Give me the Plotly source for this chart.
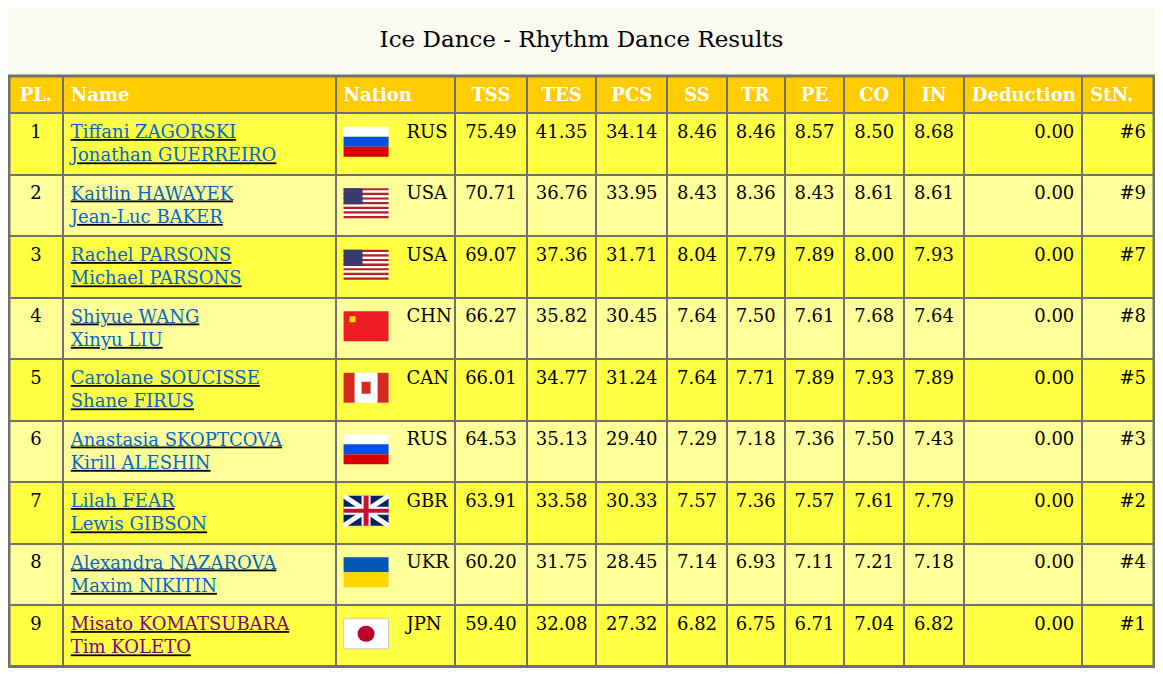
import plotly.graph_objects as go

W, H = 1147, 660
ML, MR, MT, MB = 1, 1, 68, 0

places = [1, 2, 3, 4, 5, 6, 7, 8, 9]
skaters = [
    ("Tiffani ZAGORSKI", "Jonathan GUERREIRO"),
    ("Kaitlin HAWAYEK", "Jean-Luc BAKER"),
    ("Rachel PARSONS", "Michael PARSONS"),
    ("Shiyue WANG", "Xinyu LIU"),
    ("Carolane SOUCISSE", "Shane FIRUS"),
    ("Anastasia SKOPTCOVA", "Kirill ALESHIN"),
    ("Lilah FEAR", "Lewis GIBSON"),
    ("Alexandra NAZAROVA", "Maxim NIKITIN"),
    ("Misato KOMATSUBARA", "Tim KOLETO"),
]
nations = ["RUS", "USA", "USA", "CHN", "CAN", "RUS", "GBR", "UKR", "JPN"]
tss = [75.49, 70.71, 69.07, 66.27, 66.01, 64.53, 63.91, 60.20, 59.40]
tes = [41.35, 36.76, 37.36, 35.82, 34.77, 35.13, 33.58, 31.75, 32.08]
pcs = [34.14, 33.95, 31.71, 30.45, 31.24, 29.40, 30.33, 28.45, 27.32]
ss = [8.46, 8.43, 8.04, 7.64, 7.64, 7.29, 7.57, 7.14, 6.82]
tr = [8.46, 8.36, 7.79, 7.50, 7.71, 7.18, 7.36, 6.93, 6.75]
pe = [8.57, 8.43, 7.89, 7.61, 7.89, 7.36, 7.57, 7.11, 6.71]
co = [8.50, 8.61, 8.00, 7.68, 7.93, 7.50, 7.61, 7.21, 7.04]
inn = [8.68, 8.61, 7.93, 7.64, 7.89, 7.43, 7.79, 7.18, 6.82]
deduction = [0.00] * 9
start_no = ["#6", "#9", "#7", "#8", "#5", "#3", "#2", "#4", "#1"]

headers = ["PL.", "Name", "Nation", "TSS", "TES", "PCS", "SS", "TR", "PE",
           "CO", "IN", "Deduction", "StN."]
col_px = [54, 274, 120, 72, 70, 71, 60, 58, 60, 60, 60, 119, 72]

HEAD_H, ROW_H = 37, 61.5

def link(text, color):
    return (f"<span style='text-decoration:underline'>"
            f"<span style='fill:{color}'>{text}</span></span>")

name_cells = []
for i, (a, b) in enumerate(skaters):
    c = "#800080" if i == len(skaters) - 1 else "#0066cc"
    name_cells.append(link(a, c) + "<br>" + link(b, c))

nbsp = "\u00a0"
# single-line cells get a leading break so they sit mid-row like the names
down = lambda seq: ["<br>" + str(s) for s in seq]
nation_cells = down([nbsp * 11 + n for n in nations])
fmt = lambda v: down([f"{x:.2f}" for x in v])

values = [down(places), name_cells, nation_cells, fmt(tss), fmt(tes), fmt(pcs),
          fmt(ss), fmt(tr), fmt(pe), fmt(co), fmt(inn), fmt(deduction),
          down(start_no)]

row_fill = ["#ffff44" if i % 2 == 0 else "#ffff99" for i in range(9)]
aligns = ["center", "left", "left"] + ["center"] * 8 + ["right", "right"]
halign = ["center", "left", "left"] + ["center"] * 8 + ["left", "left"]

fig = go.Figure(go.Table(
    columnwidth=col_px,
    header=dict(values=[f"<b>{h}</b>" for h in headers],
                fill_color="#ffcc00", line=dict(color="#707070", width=2),
                font=dict(family="DejaVu Serif", size=18, color="white"),
                align=halign, height=HEAD_H),
    cells=dict(values=values, fill_color=[row_fill] * len(headers),
               line=dict(color="#707070", width=2),
               font=dict(family="DejaVu Serif", size=18, color="black"),
               align=aligns, height=ROW_H),
))

# flags drawn as shapes, positioned from row index
pw, ph = W - ML - MR, H - MT - MB
def px_x(x): return (x - ML) / pw
def px_y(y): return 1 - (y - MT) / ph

shapes = []
def rect(x0, y0, x1, y1, color):
    shapes.append(dict(type="rect", xref="paper", yref="paper",
                       x0=px_x(x0), x1=px_x(x1), y0=px_y(y1), y1=px_y(y0),
                       fillcolor=color, line=dict(width=0), layer="above"))

fx0 = ML + sum(col_px[:2]) * pw / sum(col_px) + 8
fw, fh = 45, 30
for i, n in enumerate(nations):
    cy = MT + HEAD_H + ROW_H * (i + 0.5) - 2
    x0, y0 = fx0, cy - fh / 2
    x1, y1 = x0 + fw, y0 + fh
    if n == "RUS":
        rect(x0, y0, x1, y0 + 10, "#ffffff")
        rect(x0, y0 + 10, x1, y0 + 20, "#0050e0")
        rect(x0, y0 + 20, x1, y1, "#d80000")
    elif n == "USA":
        for k in range(13):
            rect(x0, y0 + k * fh / 13, x1, y0 + (k + 1) * fh / 13,
                 "#b22234" if k % 2 == 0 else "#ffffff")
        rect(x0, y0, x0 + 19, y0 + 16, "#3c3b6e")
    elif n == "CHN":
        rect(x0, y0, x1, y1, "#ee1c25")
        rect(x0 + 6, y0 + 5, x0 + 12, y0 + 11, "#ffde00")
    elif n == "CAN":
        rect(x0, y0, x1, y1, "#ffffff")
        rect(x0, y0, x0 + 11, y1, "#d52b1e")
        rect(x1 - 11, y0, x1, y1, "#d52b1e")
        rect(x0 + 18, y0 + 9, x1 - 18, y1 - 9, "#d52b1e")
    elif n == "GBR":
        rect(x0, y0, x1, y1, "#012169")
        for k in range(2):
            xa, xb = (x0, x1) if k == 0 else (x1, x0)
            shapes.append(dict(type="line", xref="paper", yref="paper",
                               x0=px_x(xa), y0=px_y(y0), x1=px_x(xb), y1=px_y(y1),
                               line=dict(color="white", width=5), layer="above"))
        rect(x0, y0 + 11, x1, y1 - 11, "#ffffff")
        rect(x0 + 18, y0, x1 - 18, y1, "#ffffff")
        rect(x0, y0 + 13, x1, y1 - 13, "#c8102e")
        rect(x0 + 20, y0, x1 - 20, y1, "#c8102e")
    elif n == "UKR":
        rect(x0, y0, x1, y0 + fh / 2, "#0057b7")
        rect(x0, y0 + fh / 2, x1, y1, "#ffd700")
    elif n == "JPN":
        rect(x0, y0, x1, y1, "#ffffff")
        shapes.append(dict(type="circle", xref="paper", yref="paper",
                           x0=px_x(x0 + 14), x1=px_x(x1 - 14),
                           y0=px_y(y1 - 7), y1=px_y(y0 + 7),
                           fillcolor="#bc002d", line=dict(width=0), layer="above"))
        shapes.append(dict(type="rect", xref="paper", yref="paper",
                           x0=px_x(x0), x1=px_x(x1), y0=px_y(y1), y1=px_y(y0),
                           line=dict(color="#cccccc", width=1), layer="above"))

# outer border
shapes.append(dict(type="rect", xref="paper", yref="paper",
                   x0=0, x1=1, y0=px_y(MT + HEAD_H + ROW_H * 9), y1=1,
                   line=dict(color="#707070", width=3), layer="above"))

fig.update_layout(
    width=W, height=H,
    margin=dict(l=ML, r=MR, t=MT, b=MB),
    paper_bgcolor="#fafaf0",
    title=dict(text="Ice Dance - Rhythm Dance Results", x=0.5, y=0.965,
               xanchor="center", font=dict(family="DejaVu Serif", size=23,
                                           color="black")),
    shapes=shapes,
)

fig.write_html("out.html")
